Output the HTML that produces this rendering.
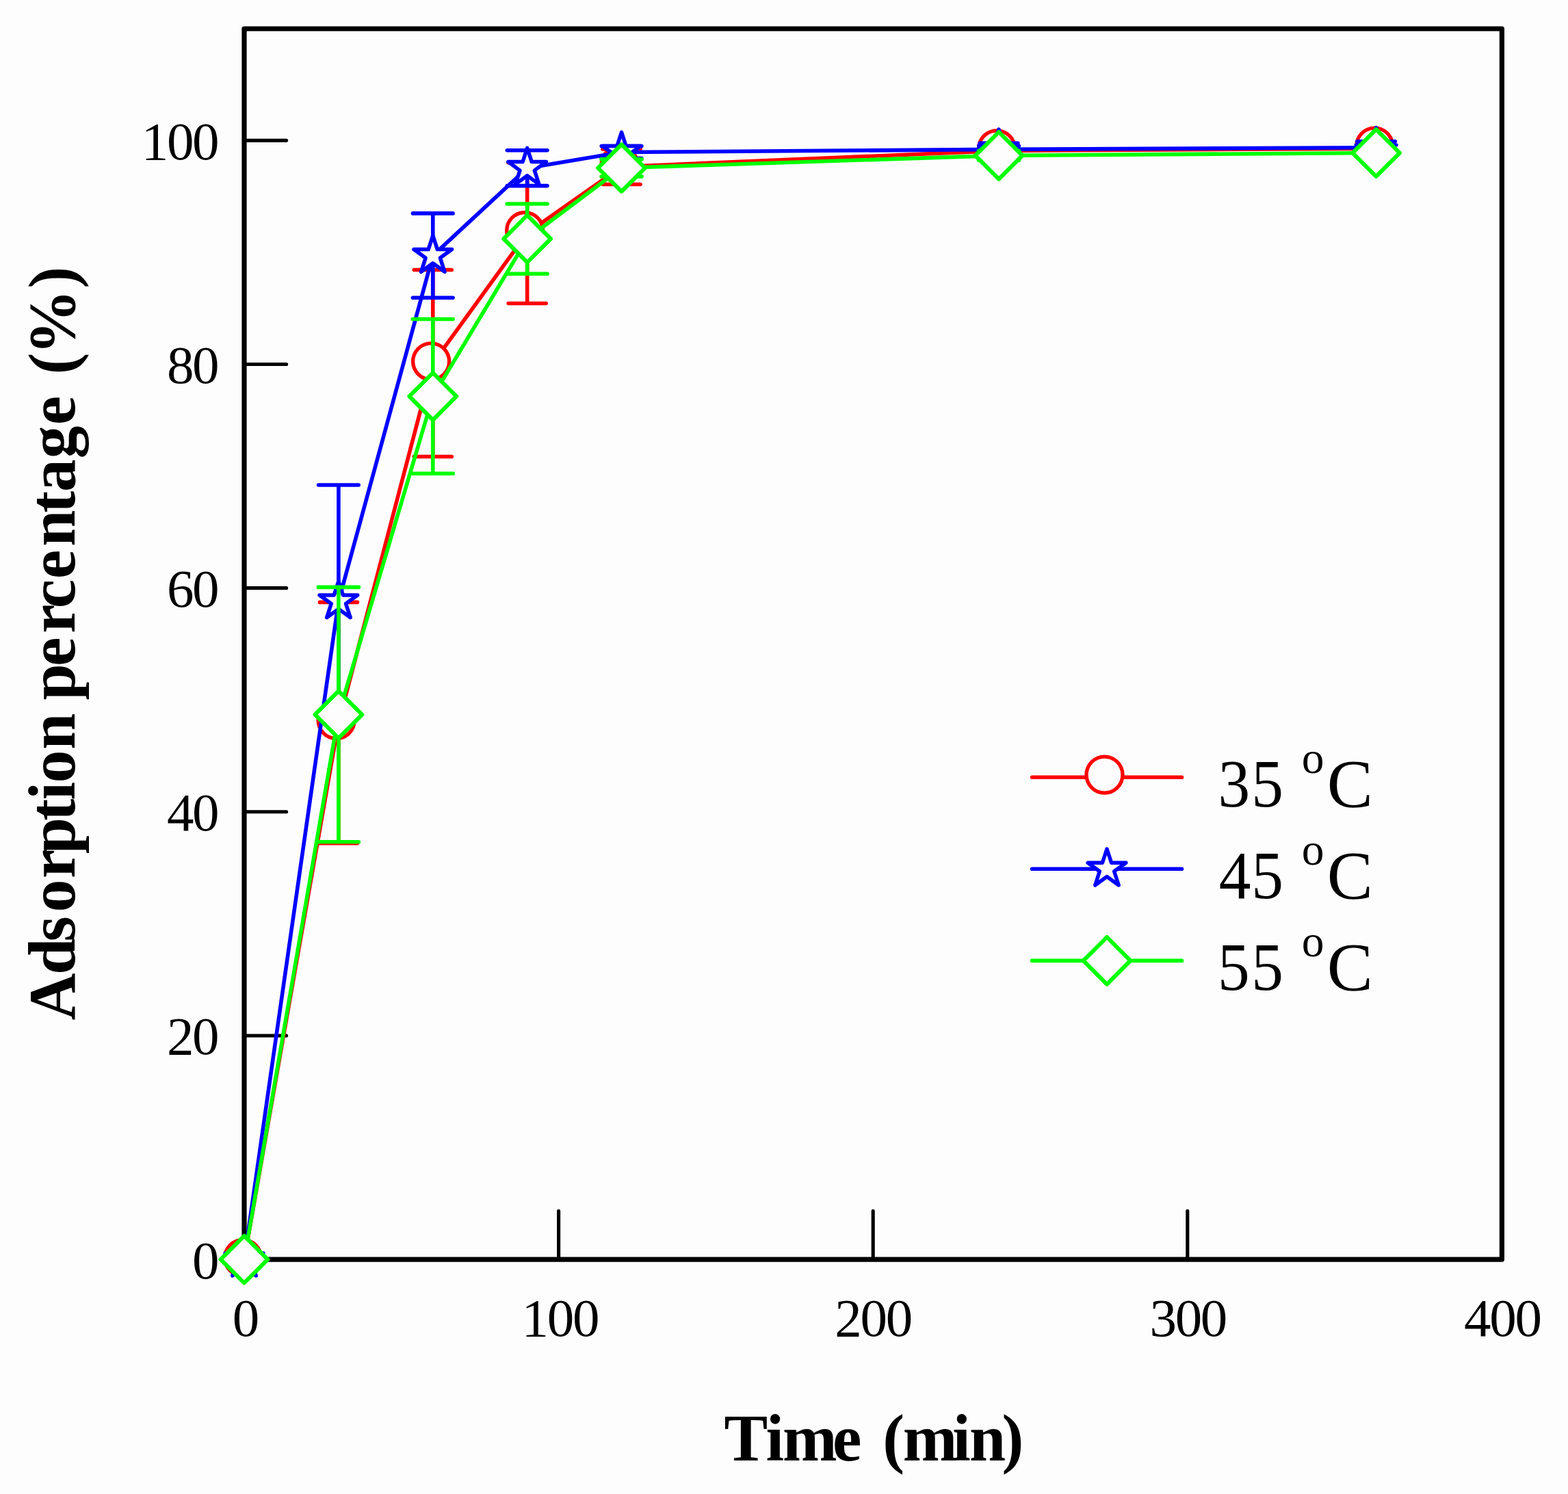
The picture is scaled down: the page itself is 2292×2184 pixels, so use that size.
<!DOCTYPE html>
<html lang="en"><head><meta charset="utf-8"><title>Adsorption percentage vs time</title>
<style>html,body{margin:0;padding:0;background:#fdfdfd;}body{width:2292px;height:2184px;overflow:hidden}svg{display:block}</style>
</head><body>
<svg width="2292" height="2184" viewBox="0 0 2292 2184" role="img" aria-label="Adsorption percentage versus time at 35, 45 and 55 degrees C">
<rect width="2292" height="2184" fill="#fdfdfd"/>
<g fill="none" stroke="#000" stroke-linecap="round" stroke-linejoin="round">
<rect x="357.0" y="42.0" width="1838.40" height="1799.10" stroke-width="7.2"/>
<path d="M816.60 1841.1V1770.40M1276.20 1841.1V1770.40M1735.80 1841.1V1770.40M357.0 1513.95H418.60M357.0 1186.79H418.60M357.0 859.64H418.60M357.0 532.48H418.60M357.0 205.33H418.60" stroke-width="5.1"/>
</g>
<g font-family="'Liberation Serif', serif" fill="#000">
<g font-size="79.0">
<text x="281.11" y="1868.50">0</text>
<text x="243.91 281.11" y="1541.35">20</text>
<text x="243.91 281.11" y="1214.19">40</text>
<text x="243.91 281.11" y="887.04">60</text>
<text x="243.91 281.11" y="559.88">80</text>
<text x="206.71 243.91 281.11" y="232.73">100</text>
<text x="339.65" y="1952.6">0</text>
<text x="762.58 799.78 836.98" y="1952.6">100</text>
<text x="1220.32 1257.52 1294.72" y="1952.6">200</text>
<text x="1680.46 1717.66 1754.86" y="1952.6">300</text>
<text x="2139.98 2177.18 2214.38" y="1952.6">400</text>
</g>
<text font-weight="bold" font-size="98.0" transform="scale(0.975 1)" x="1085.60 1148.13 1173.37 1248.10 1287.25 1323.36 1353.47 1428.08 1453.46 1502.05" y="2134.6">Time (min)</text>
<text font-weight="bold" font-size="98.0" transform="translate(108.9 0) rotate(-90) scale(0.975 1)" x="-1529.76 -1461.40 -1411.92 -1367.78 -1316.99 -1280.25 -1230.53 -1199.61 -1173.94 -1123.93 -1074.88 -1049.79 -999.08 -949.50 -912.15 -867.90 -819.21 -768.89 -737.54 -687.36 -637.08 -597.93 -561.46 -531.79 -432.36" y="0">Adsorption percentage (%)</text>
<text font-size="100.5" y="1179.3" transform="scale(0.93 1)" x="1914.54 1966.93">35</text>
<text font-size="65.5" y="1130.30" x="1902.83">o</text>
<text font-size="100.5" y="1179.3" x="1939.70">C</text>
<text font-size="100.5" y="1312.7" transform="scale(0.93 1)" x="1915.86 1966.93">45</text>
<text font-size="65.5" y="1263.70" x="1902.83">o</text>
<text font-size="100.5" y="1312.7" x="1939.70">C</text>
<text font-size="100.5" y="1447.0" transform="scale(0.93 1)" x="1914.03 1966.93">55</text>
<text font-size="65.5" y="1398.00" x="1902.83">o</text>
<text font-size="100.5" y="1447.0" x="1939.70">C</text>
</g>
<g stroke="#ff0000" fill="none" stroke-width="5.6" stroke-linecap="round" stroke-linejoin="round">
<polyline points="357.00,1841.10 494.88,1056.60 632.76,531.05 770.64,340.60 908.52,243.70 1460.04,220.40 2011.56,217.20"/>
<path d="M494.88 880.40V1232.80M467.38 880.40H522.38M467.38 1232.80H522.38M632.76 394.55V667.55M605.26 394.55H660.26M605.26 667.55H660.26M770.64 237.70V443.50M743.14 237.70H798.14M743.14 443.50H798.14M908.52 217.90V269.50M881.02 217.90H936.02M881.02 269.50H936.02"/>
<g fill="#fdfdfd">
<circle cx="355.15" cy="1838.90" r="26.5" stroke-width="5.3"/>
<circle cx="491.63" cy="1053.05" r="26.5" stroke-width="5.3"/>
<circle cx="630.11" cy="528.35" r="26.5" stroke-width="5.3"/>
<circle cx="767.14" cy="337.10" r="26.5" stroke-width="5.3"/>
<circle cx="905.52" cy="240.70" r="26.5" stroke-width="5.3"/>
<circle cx="1457.04" cy="217.30" r="26.5" stroke-width="5.3"/>
<circle cx="2009.26" cy="213.70" r="26.5" stroke-width="5.3"/>
</g></g>
<g stroke="#0000ff" fill="none" stroke-width="5.6" stroke-linecap="round" stroke-linejoin="round">
<polyline points="357.00,1841.10 494.88,879.00 632.76,373.60 770.64,245.65 908.52,222.55 1460.04,218.40 2011.56,215.80"/>
<path d="M494.88 709.00V1049.00M465.58 709.00H524.18M465.58 1049.00H524.18M632.76 311.90V435.30M603.46 311.90H662.06M603.46 435.30H662.06M770.64 219.68V271.62M741.34 219.68H799.94M741.34 271.62H799.94M908.52 213.60V231.50M879.22 213.60H937.82M879.22 231.50H937.82M1460.04 213.40V223.40M1430.74 213.40H1489.34M1430.74 223.40H1489.34M2011.56 212.00V219.60M1982.26 212.00H2040.86M1982.26 219.60H2040.86"/>
<g fill="#fdfdfd">
<path d="M357.00 1811.80L363.58 1832.05L384.87 1832.05L367.64 1844.56L374.22 1864.80L357.00 1852.29L339.78 1864.80L346.36 1844.56L329.13 1832.05L350.42 1832.05Z" stroke-width="5.5"/>
<path d="M494.88 849.70L501.46 869.95L522.75 869.95L505.52 882.46L512.10 902.70L494.88 890.19L477.66 902.70L484.24 882.46L467.01 869.95L488.30 869.95Z" stroke-width="5.5"/>
<path d="M632.76 344.30L639.34 364.55L660.63 364.55L643.40 377.06L649.98 397.30L632.76 384.79L615.54 397.30L622.12 377.06L604.89 364.55L626.18 364.55Z" stroke-width="5.5"/>
<path d="M770.64 216.35L777.22 236.60L798.51 236.60L781.28 249.11L787.86 269.35L770.64 256.84L753.42 269.35L760.00 249.11L742.77 236.60L764.06 236.60Z" stroke-width="5.5"/>
<path d="M908.52 193.25L915.10 213.50L936.39 213.50L919.16 226.01L925.74 246.25L908.52 233.74L891.30 246.25L897.88 226.01L880.65 213.50L901.94 213.50Z" stroke-width="5.5"/>
<path d="M1460.04 189.10L1466.62 209.35L1487.91 209.35L1470.68 221.86L1477.26 242.10L1460.04 229.59L1442.82 242.10L1449.40 221.86L1432.17 209.35L1453.46 209.35Z" stroke-width="5.5"/>
<path d="M2011.56 186.50L2018.14 206.75L2039.43 206.75L2022.20 219.26L2028.78 239.50L2011.56 226.99L1994.34 239.50L2000.92 219.26L1983.69 206.75L2004.98 206.75Z" stroke-width="5.5"/>
</g></g>
<g stroke="#00ff00" fill="none" stroke-width="5.6" stroke-linecap="round" stroke-linejoin="round">
<polyline points="357.00,1841.10 494.88,1044.60 632.76,579.40 770.64,349.10 908.52,245.50 1460.04,227.40 2011.56,223.56"/>
<path d="M494.88 858.40V1230.80M465.38 858.40H524.38M465.38 1230.80H524.38M632.76 466.50V692.30M603.26 466.50H662.26M603.26 692.30H662.26M770.64 298.00V400.20M741.14 298.00H800.14M741.14 400.20H800.14M908.52 232.90V258.10M879.02 232.90H938.02M879.02 258.10H938.02M1460.04 220.60V234.20M1430.54 220.60H1489.54M1430.54 234.20H1489.54M2011.56 220.56V226.56M1982.06 220.56H2041.06M1982.06 226.56H2041.06"/>
<g fill="#fdfdfd">
<path d="M357.00 1806.70L391.40 1841.10L357.00 1875.50L322.60 1841.10Z" stroke-width="5.9"/>
<path d="M494.88 1010.20L529.28 1044.60L494.88 1079.00L460.48 1044.60Z" stroke-width="5.9"/>
<path d="M632.76 545.00L667.16 579.40L632.76 613.80L598.36 579.40Z" stroke-width="5.9"/>
<path d="M770.64 314.70L805.04 349.10L770.64 383.50L736.24 349.10Z" stroke-width="5.9"/>
<path d="M908.52 211.10L942.92 245.50L908.52 279.90L874.12 245.50Z" stroke-width="5.9"/>
<path d="M1460.04 193.00L1494.44 227.40L1460.04 261.80L1425.64 227.40Z" stroke-width="5.9"/>
<path d="M2011.56 189.16L2045.96 223.56L2011.56 257.96L1977.16 223.56Z" stroke-width="5.9"/>
</g></g>
<g stroke="#ff0000" fill="#fdfdfd" stroke-width="5.6" stroke-linecap="round" stroke-linejoin="round">
<path d="M1508.6 1136.2H1727.5"/>
<circle cx="1614.50" cy="1132.60" r="26.5" stroke-width="5.3"/>
</g>
<g stroke="#0000ff" fill="#fdfdfd" stroke-width="5.6" stroke-linecap="round" stroke-linejoin="round">
<path d="M1508.6 1270.3H1727.5"/>
<path d="M1618.00 1241.00L1624.58 1261.25L1645.87 1261.25L1628.64 1273.76L1635.22 1294.00L1618.00 1281.49L1600.78 1294.00L1607.36 1273.76L1590.13 1261.25L1611.42 1261.25Z" stroke-width="5.5"/>
</g>
<g stroke="#00ff00" fill="#fdfdfd" stroke-width="5.6" stroke-linecap="round" stroke-linejoin="round">
<path d="M1508.6 1404.4H1727.5"/>
<path d="M1618.00 1370.00L1652.40 1404.40L1618.00 1438.80L1583.60 1404.40Z" stroke-width="5.9"/>
</g>
</svg>
</body></html>
